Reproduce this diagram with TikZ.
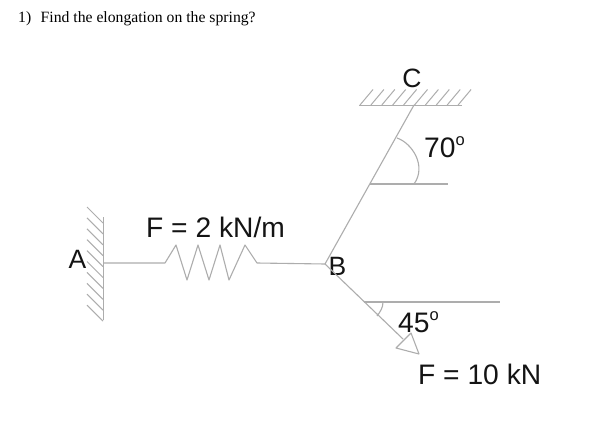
\documentclass[tikz,border=0pt]{standalone}
\usepackage{fontspec}
\setmainfont{Liberation Sans}
\newfontfamily\titlefont{Liberation Serif}
\definecolor{linegray}{gray}{0.68}
\tikzset{
  x=1pt,y=-1pt,
  member/.style={draw=linegray,line width=1.1pt,line join=round},
  hatchline/.style={draw=linegray,line width=1pt},
  lab/.style={inner sep=0pt,text=black!92,font=\fontsize{28.2}{30}\selectfont,anchor=base west},
  letter/.style={inner sep=0pt,text=black!92,font=\fontsize{26.5}{28}\selectfont,anchor=base},
}
\begin{document}
\begin{tikzpicture}
\useasboundingbox (0,0) rectangle (612,428);
\fill[white] (0,0) rectangle (612,428);
% text
\node[inner sep=0pt,anchor=base west,font=\titlefont\fontsize{15.7}{18}\selectfont] (title) at (18,22.5) {1)\hspace{0.6em}Find the elongation on the spring?};
\node[letter] (C) at (412,87) {C};
\node[letter] (A) at (77.5,268) {A};
\node[letter] (B) at (337.5,275) {B};
\node[lab] (k) at (146,237) {F = 2 kN/m};
\node[lab] (a70) at (424,157) {70\raisebox{0.42em}{\fontsize{16.5}{16}\selectfont o}};
\node[lab] (a45) at (398,332) {45\raisebox{0.42em}{\fontsize{16.5}{16}\selectfont o}};
\node[lab] (F) at (418,384) {F = 10 kN};
% anchors
\coordinate (pB) at (325,264);
\coordinate (pC) at (414,105);
\coordinate (pA) at (103,263);
\coordinate (h1) at (370,184);
\coordinate (h1e) at (448,184);
\coordinate (h2) at (364,302);
\coordinate (h2e) at (500,302);
\coordinate (tip) at (403,339);
% ceiling
\draw[hatchline] (359,105) -- (462,105);
\foreach \i in {0,...,9} {
  \draw[hatchline] ({360+\i*10.9},105) -- ({373+\i*10.9},89.5);
}
% wall
\draw[hatchline] (103,217) -- (103,320);
\foreach \i in {0,...,9} {
  \draw[hatchline] (103,{223+\i*10.9}) -- (87,{207+\i*10.9});
}
% members
\draw[member] (pC) -- (pB);
\draw[member] (h1) -- (h1e);
\draw[member] (pB) -- (tip);
\draw[member] (h2) -- (h2e);
\draw[member] (pA) -- (165,263) -- (176,245) -- (187,280) -- (198,245) -- (209,280) -- (220,245) -- (229,280) -- (245,245) -- (257,263) -- (pB);
% arrow head
\draw[member] (411,333) -- (419,354) -- (396,348) -- cycle;
% angle arcs
\draw[member] (397,138) .. controls (412,143) and (427,166) .. (414,184);
\draw[member] (383,302) .. controls (383,308) and (380,312) .. (377,316);
\end{tikzpicture}
\end{document}
